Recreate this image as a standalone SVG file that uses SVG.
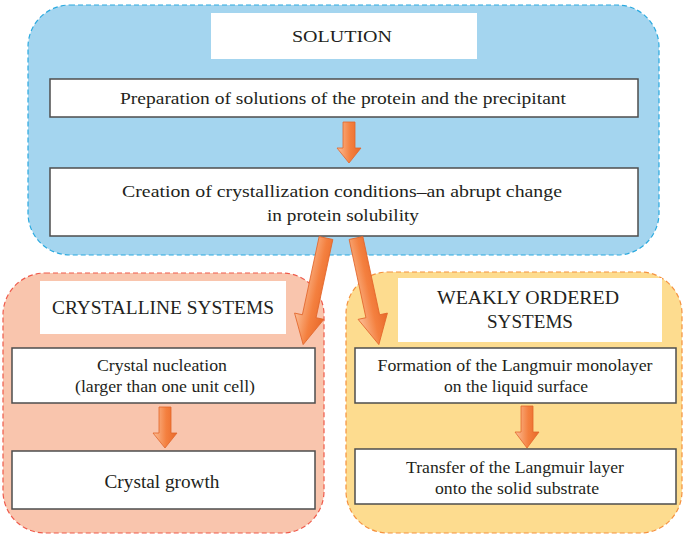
<svg xmlns="http://www.w3.org/2000/svg" width="685" height="536" viewBox="0 0 685 536" font-family="Liberation Serif, Tinos, DejaVu Serif, serif">
<defs>
<linearGradient id="ag" x1="0" y1="0" x2="1" y2="0">
<stop offset="0" stop-color="#fbbf98"/>
<stop offset="0.55" stop-color="#f4803f"/>
<stop offset="1" stop-color="#e8692a"/>
</linearGradient>
<style>
.grp{stroke-width:1.2;stroke-dasharray:5,3}
.hdr{fill:#ffffff;stroke:none}
.box{fill:#ffffff;stroke:#4d4d4d;stroke-width:1.5}
.t{font-size:17px;fill:#231f20;text-anchor:middle}
.th{font-size:19px;fill:#231f20;text-anchor:middle}
.arr{fill:url(#ag);stroke:#e2652a;stroke-width:0.8}
</style>
</defs>
<rect width="685" height="536" fill="#ffffff"/>
<g id="solution">
<rect class="grp" x="28" y="5" width="631" height="250" rx="42" fill="#a4d5ef" stroke="#2aa9df"/>
<rect class="hdr" x="211" y="13" width="266" height="46"/>
<text class="t" x="342" y="42" textLength="100" lengthAdjust="spacingAndGlyphs">SOLUTION</text>
</g>
<g id="crystalline">
<rect class="grp" x="3" y="273" width="321" height="260" rx="42" fill="#f9c5ad" stroke="#ef5a4a"/>
<rect class="hdr" x="40" y="281" width="246" height="53"/>
<text class="th" x="163" y="314" textLength="222" lengthAdjust="spacingAndGlyphs">CRYSTALLINE SYSTEMS</text>
</g>
<g id="weakly">
<rect class="grp" x="346" y="272" width="336" height="261" rx="42" fill="#fddc8f" stroke="#f5923e"/>
<rect class="hdr" x="398" y="278" width="264" height="64"/>
<text class="th" x="528" y="304" textLength="182" lengthAdjust="spacingAndGlyphs">WEAKLY ORDERED</text>
<text class="th" x="530" y="328" textLength="86" lengthAdjust="spacingAndGlyphs">SYSTEMS</text>
</g>
<g id="prep">
<rect class="box" x="50" y="79" width="588" height="38"/>
<text class="t" x="343" y="104" textLength="446" lengthAdjust="spacingAndGlyphs">Preparation of solutions of the protein and the precipitant</text>
</g>
<g id="creation">
<rect class="box" x="50" y="168" width="588" height="68"/>
<text class="t" x="342" y="197" textLength="440" lengthAdjust="spacingAndGlyphs">Creation of crystallization conditions–an abrupt change</text>
<text class="t" x="343" y="221" textLength="152" lengthAdjust="spacingAndGlyphs">in protein solubility</text>
</g>
<g id="nucleation">
<rect class="box" x="12" y="348" width="303" height="55"/>
<text class="t" x="162" y="371" textLength="130" lengthAdjust="spacingAndGlyphs">Crystal nucleation</text>
<text class="t" x="165" y="392" textLength="180" lengthAdjust="spacingAndGlyphs">(larger than one unit cell)</text>
</g>
<g id="growth">
<rect class="box" x="12" y="451" width="303" height="58"/>
<text class="th" x="162" y="488" textLength="115" lengthAdjust="spacingAndGlyphs">Crystal growth</text>
</g>
<g id="formation">
<rect class="box" x="355" y="348" width="321" height="55"/>
<text class="t" x="515" y="371" textLength="275" lengthAdjust="spacingAndGlyphs">Formation of the Langmuir monolayer</text>
<text class="t" x="516" y="392" textLength="144" lengthAdjust="spacingAndGlyphs">on the liquid surface</text>
</g>
<g id="transfer">
<rect class="box" x="355" y="449" width="321" height="55"/>
<text class="t" x="515" y="473" textLength="218" lengthAdjust="spacingAndGlyphs">Transfer of the Langmuir layer</text>
<text class="t" x="517" y="494" textLength="164" lengthAdjust="spacingAndGlyphs">onto the solid substrate</text>
</g>
<g id="connectors">
<polygon class="arr" transform="translate(349,122)" points="-6,0 6,0 6,26 12,26 0,41 -12,26 -6,26"/>
<polygon class="arr" transform="translate(165,407)" points="-6,0 6,0 6,26 12,26 0,41 -12,26 -6,26"/>
<polygon class="arr" transform="translate(527,406)" points="-6,0 6,0 6,26 12,26 0,42 -12,26 -6,26"/>
<polygon class="arr" transform="translate(326,238) rotate(12.1)" points="-7,0 7,0 7,80 15,80 0,109 -15,80 -7,80"/>
<polygon class="arr" transform="translate(356,238) rotate(-12.1)" points="-7,0 7,0 7,80 15,80 0,109 -15,80 -7,80"/>
</g>
</svg>
